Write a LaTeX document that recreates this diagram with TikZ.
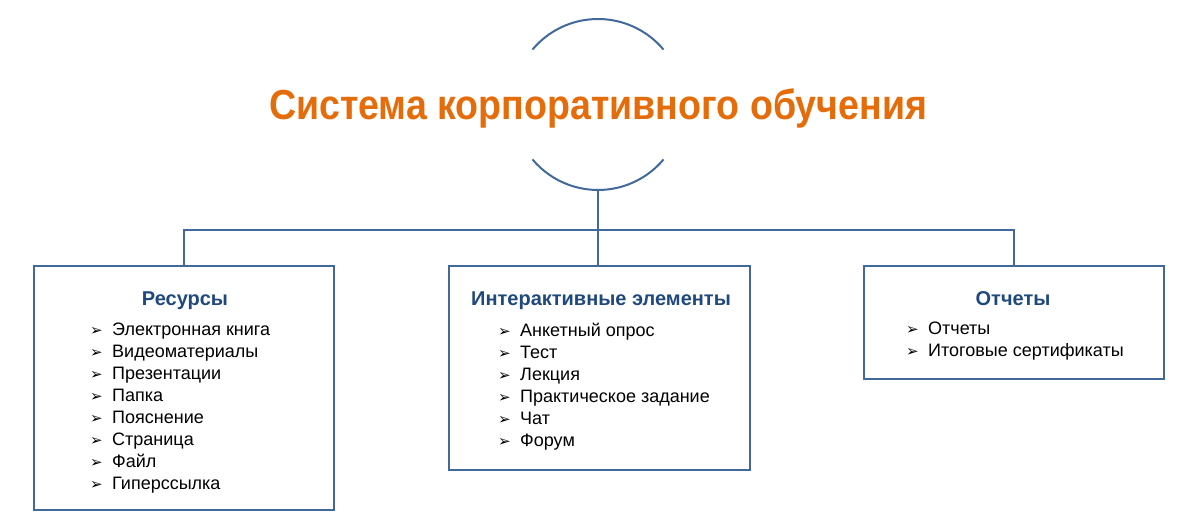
\documentclass[tikz,border=0pt]{standalone}
\usepackage{fontspec}
\setmainfont{Liberation Sans}
\newfontfamily\dingfont{DejaVu Sans}
\usetikzlibrary{positioning,calc}
\definecolor{linie}{HTML}{41699C}
\definecolor{titelfarbe}{HTML}{E46C0A}
\definecolor{kopffarbe}{HTML}{1F497D}
\begin{document}
\begin{tikzpicture}[x=1pt,y=1pt,
	kasten/.style={draw=linie, line width=2pt, minimum width=300pt, inner sep=0pt},
	kopf/.style={font=\bfseries\fontsize{20}{22}\selectfont, text=kopffarbe, anchor=base},
	punkt/.style={font=\fontsize{18}{22}\selectfont, anchor=base west, inner sep=0pt},
	marke/.style={font=\dingfont\fontsize{15}{15}\selectfont, anchor=base west, inner sep=0pt},
	linien/.style={draw=linie, line width=2pt}]
			\useasboundingbox (0,0) rectangle (1200,529);
			
			% Titel mit Bogen
			\node[font=\bfseries\fontsize{42}{48}\selectfont, text=titelfarbe, anchor=base, inner sep=0pt] at(598,409) (titel) {\resizebox{658pt}{\height}{Система корпоративного обучения}};
			\coordinate (mitte) at (598,424.5);
			\draw[linien] ([shift={(40:85.5)}]mitte) arc (40:140:85.5);
			\draw[linien] ([shift={(220:85.5)}]mitte) arc (220:320:85.5);
			\coordinate (unten) at ([yshift=-85.5pt]mitte);
			\coordinate (knoten) at (598,299);
			
			% Kaesten
			\node[kasten, minimum height=244pt] at(184,141) (res) {};
			\node[kasten, minimum height=204pt, minimum width=301pt] at(599.5,161) (inter) {};
			\node[kasten, minimum height=113pt] at(1014,206.5) (rep) {};
			
			\draw[linien] (unten) -- (knoten);
			\draw[linien] (knoten) -| (res.north);
			\draw[linien] (knoten) -- (knoten |- inter.north);
			\draw[linien] (knoten) -| (rep.north);
			
			% Ueberschriften
			\node[kopf] at(185,223) (reskopf) {Ресурсы};
			\node[kopf] at(601,223) (interkopf) {Интерактивные элементы};
			\node[kopf] at(1013,223) (repkopf) {Отчеты};
			
			% Punkte
			\foreach \t [count=\i] in {Электронная книга, Видеоматериалы, Презентации, Папка, Пояснение, Страница, Файл, Гиперссылка}{
				\node[marke] at(90,{215-22*\i}) (res-m\i) {➢};
				\node[punkt] at(112,{215-22*\i}) (res-\i) {\t};
			}
			\foreach \t [count=\i] in {Анкетный опрос, Тест, Лекция, Практическое задание, Чат, Форум}{
				\node[marke] at(498,{214-22*\i}) (inter-m\i) {➢};
				\node[punkt] at(520,{214-22*\i}) (inter-\i) {\t};
			}
			\foreach \t [count=\i] in {Отчеты, Итоговые сертификаты}{
				\node[marke] at(906,{216-22*\i}) (rep-m\i) {➢};
				\node[punkt] at(928,{216-22*\i}) (rep-\i) {\t};
			}
\end{tikzpicture}
\end{document}
